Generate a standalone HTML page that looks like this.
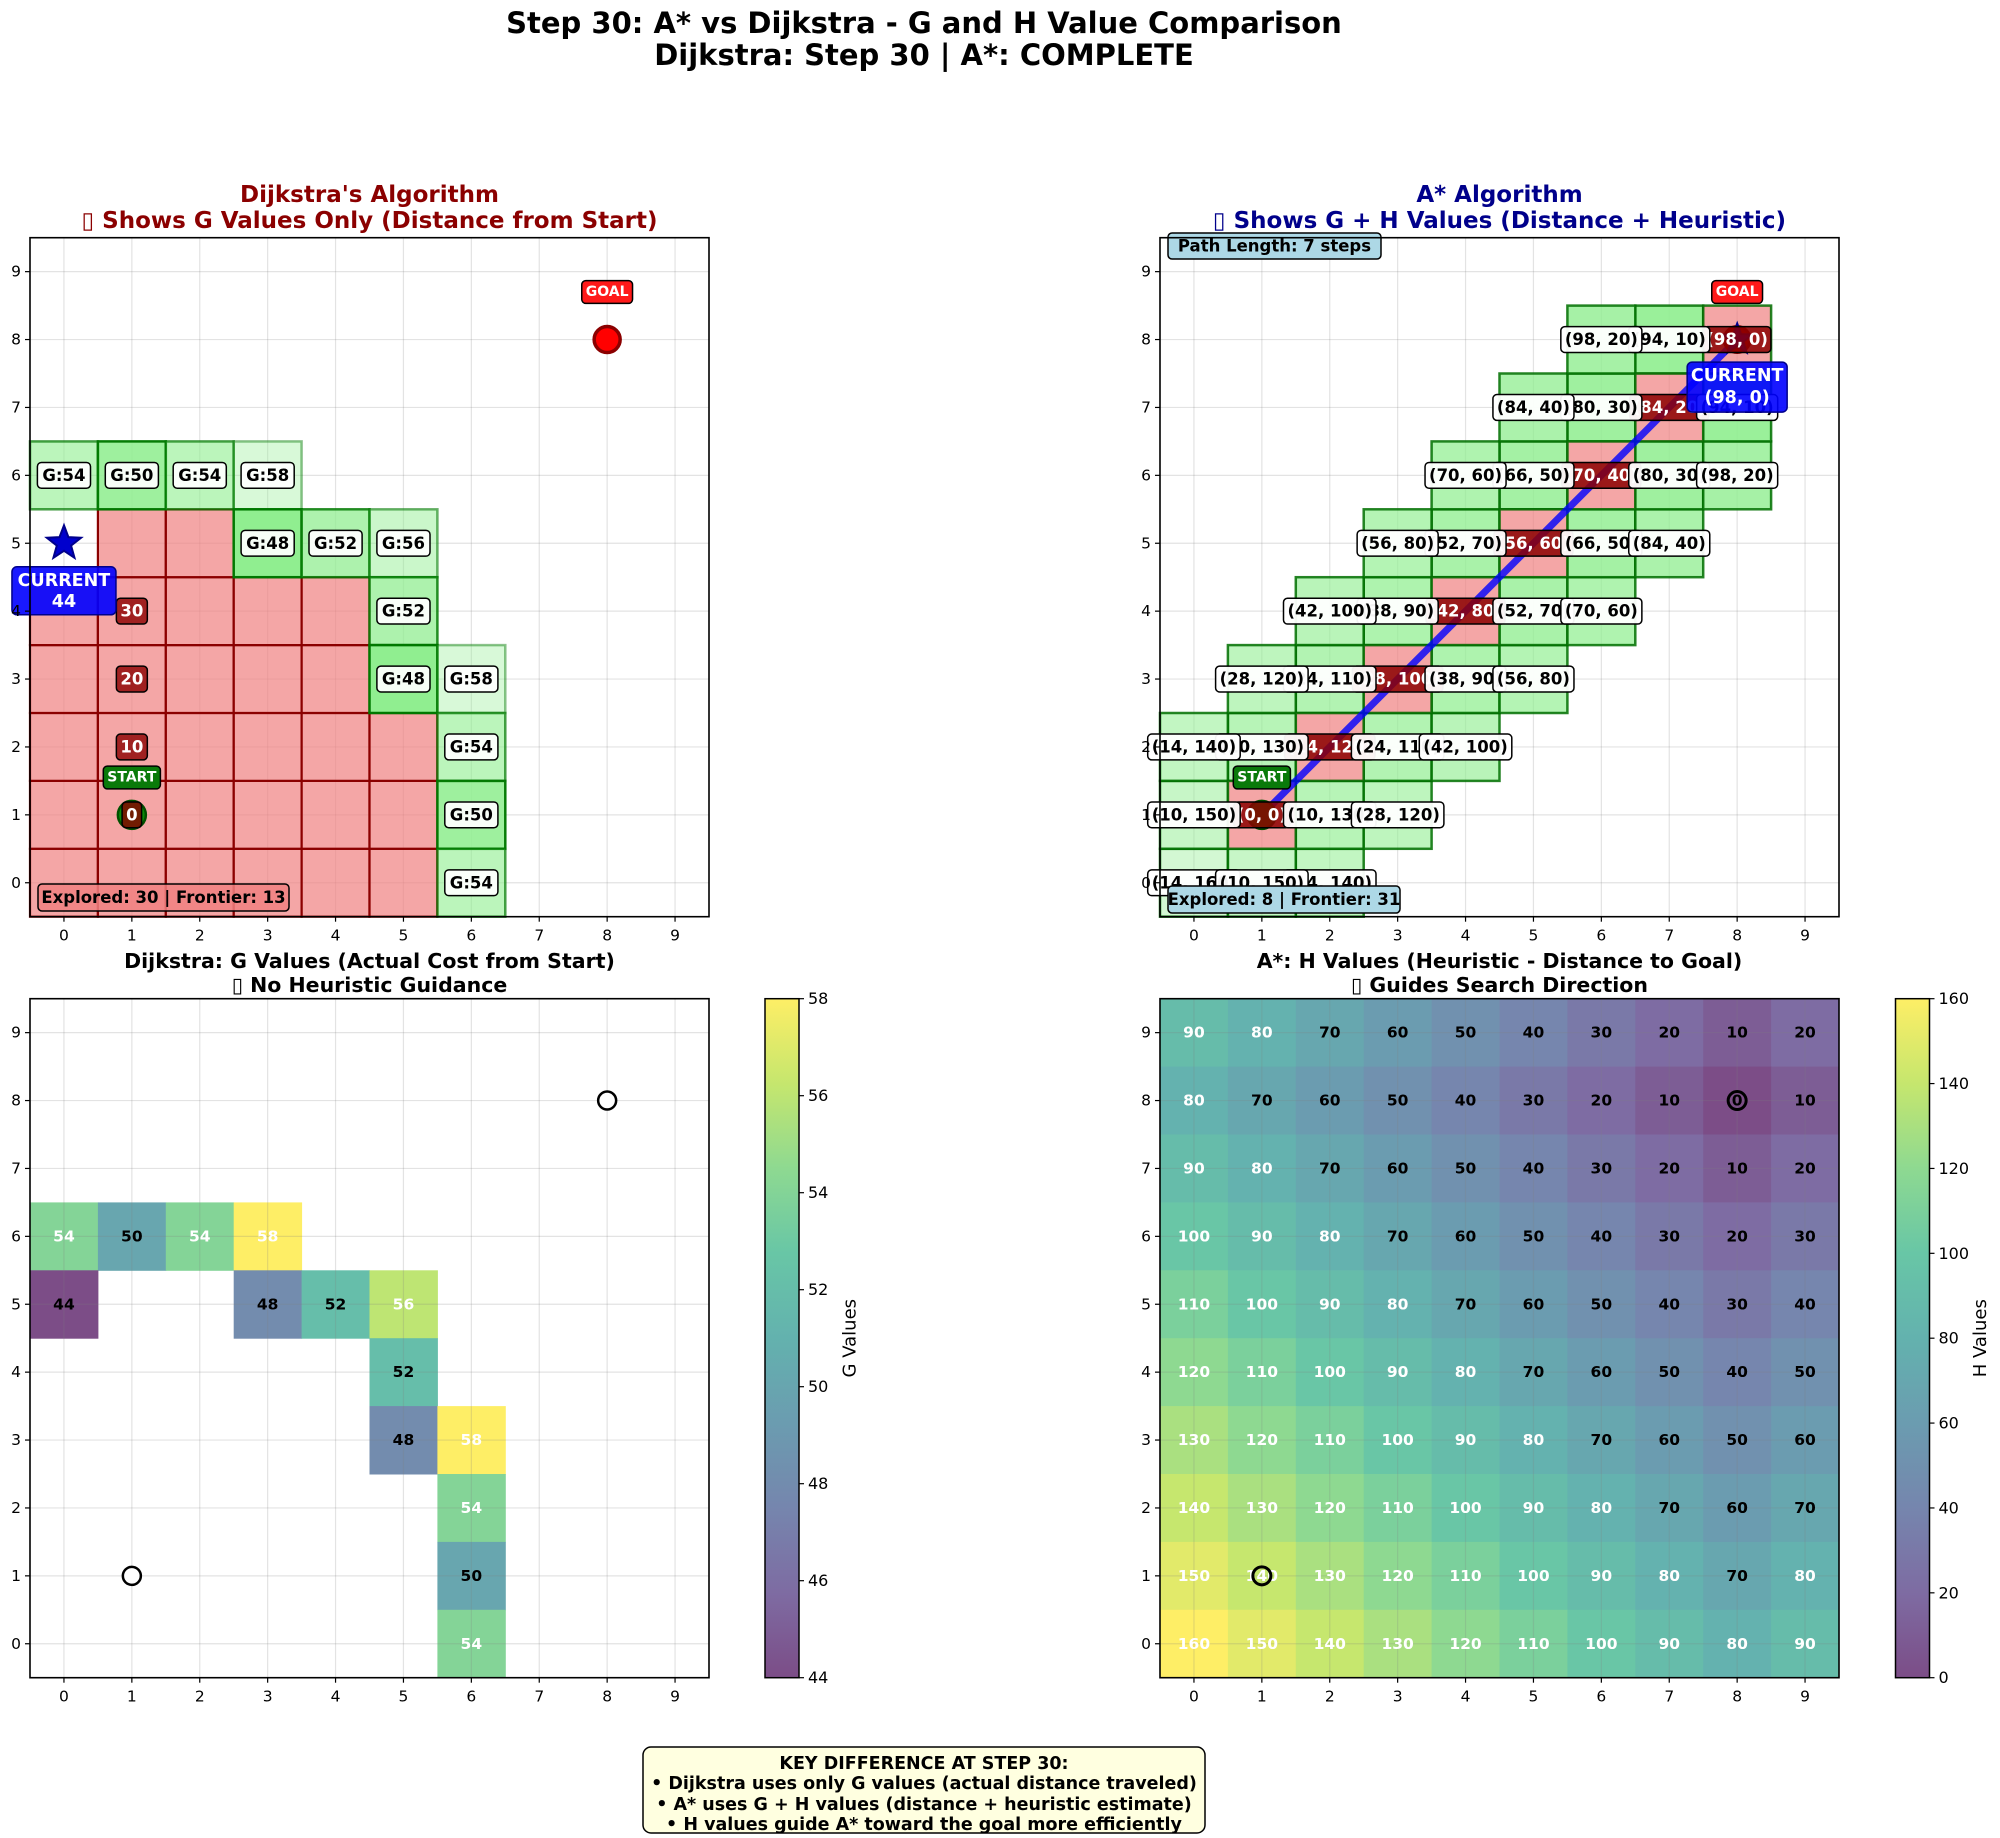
<!DOCTYPE html>
<html><head><meta charset="utf-8"><title>A* vs Dijkstra</title>
<style>
html,body{margin:0;padding:0;background:#fff;}
svg{display:block;font-family:"DejaVu Sans","Liberation Sans",sans-serif;}
</style></head>
<body>
<svg id="fig" width="2000" height="1838" xmlns="http://www.w3.org/2000/svg">
<defs>
<linearGradient id="vir" x1="0" y1="1" x2="0" y2="0">
<stop offset="0" stop-color="#440154"/><stop offset="0.125" stop-color="#472d7b"/><stop offset="0.25" stop-color="#3b528b"/><stop offset="0.375" stop-color="#2c728e"/><stop offset="0.5" stop-color="#21918c"/><stop offset="0.625" stop-color="#28ae80"/><stop offset="0.75" stop-color="#5ec962"/><stop offset="0.875" stop-color="#addc30"/><stop offset="1" stop-color="#fde725"/>
</linearGradient>
</defs>
<text x="924" y="23" text-anchor="middle" dominant-baseline="central" font-size="29" font-weight="bold">Step 30: A* vs Dijkstra - G and H Value Comparison</text>
<text x="924" y="55" text-anchor="middle" dominant-baseline="central" font-size="29" font-weight="bold">Dijkstra: Step 30 | A*: COMPLETE</text>

<text x="369.5" y="195" text-anchor="middle" dominant-baseline="central" font-size="23" font-weight="bold" fill="#8b0000">Dijkstra's Algorithm</text>
<text x="369.5" y="221" text-anchor="middle" dominant-baseline="central" font-size="23" font-weight="bold" fill="#8b0000">▯ Shows G Values Only (Distance from Start)</text>
<text x="1499.5" y="195" text-anchor="middle" dominant-baseline="central" font-size="23" font-weight="bold" fill="#00008b">A* Algorithm</text>
<text x="1499.5" y="221" text-anchor="middle" dominant-baseline="central" font-size="23" font-weight="bold" fill="#00008b">▯ Shows G + H Values (Distance + Heuristic)</text>
<text x="369.5" y="961" text-anchor="middle" dominant-baseline="central" font-size="20.5" font-weight="bold">Dijkstra: G Values (Actual Cost from Start)</text>
<text x="369.5" y="985" text-anchor="middle" dominant-baseline="central" font-size="20.5" font-weight="bold">▯ No Heuristic Guidance</text>
<text x="1499.5" y="961" text-anchor="middle" dominant-baseline="central" font-size="20.5" font-weight="bold">A*: H Values (Heuristic - Distance to Goal)</text>
<text x="1499.5" y="985" text-anchor="middle" dominant-baseline="central" font-size="20.5" font-weight="bold">▯ Guides Search Direction</text>

<g>
<rect x="643" y="1747" width="562" height="86" rx="8" fill="#ffffe0" stroke="#000" stroke-width="1.5"/>
<text x="924" y="1764" text-anchor="middle" dominant-baseline="central" font-size="17.5" font-weight="bold">KEY DIFFERENCE AT STEP 30:</text>
<text x="924" y="1784" text-anchor="middle" dominant-baseline="central" font-size="17.5" font-weight="bold">• Dijkstra uses only G values (actual distance traveled)</text>
<text x="924" y="1805" text-anchor="middle" dominant-baseline="central" font-size="17.5" font-weight="bold">• A* uses G + H values (distance + heuristic estimate)</text>
<text x="924" y="1825" text-anchor="middle" dominant-baseline="central" font-size="17.5" font-weight="bold">• H values guide A* toward the goal more efficiently</text>
</g>
</svg>
<script>
// ---------- data ----------
const dijExplored = [[0,0],[1,0],[2,0],[3,0],[4,0],[5,0],[0,1],[1,1],[2,1],[3,1],[4,1],[5,1],[0,2],[1,2],[2,2],[3,2],[4,2],[5,2],[0,3],[1,3],[2,3],[3,3],[4,3],[0,4],[1,4],[2,4],[3,4],[4,4],[1,5],[2,5]];
const dijExploredG = [[1,4,30],[1,3,20],[1,2,10],[1,1,0]];
const dijFrontier = [[0,6,54],[1,6,50],[2,6,54],[3,6,58],[3,5,48],[4,5,52],[5,5,56],[5,4,52],[5,3,48],[6,3,58],[6,2,54],[6,1,50],[6,0,54]];
const dijCurrent = [0,5,44];
const startPos = [1,1];
const goalPos = [8,8];
const dijStats = "Explored: 30 | Frontier: 13";

const astarPath = [[1,1,0,0],[2,2,14,120],[3,3,28,100],[4,4,42,80],[5,5,56,60],[6,6,70,40],[7,7,84,20],[8,8,98,0]];
const astarFrontier = [[0,0,14,160],[2,0,14,140],[1,0,10,150],[2,1,10,130],[0,1,10,150],[3,1,28,120],[1,2,10,130],[0,2,14,140],[3,2,24,110],[4,2,42,100],[2,3,24,110],[1,3,28,120],[4,3,38,90],[5,3,56,80],[3,4,38,90],[2,4,42,100],[5,4,52,70],[6,4,70,60],[4,5,52,70],[3,5,56,80],[6,5,66,50],[7,5,84,40],[5,6,66,50],[4,6,70,60],[7,6,80,30],[8,6,98,20],[6,7,80,30],[5,7,84,40],[8,7,94,10],[7,8,94,10],[6,8,98,20]];
const astarCurrent = [8,8,98,0];
const astarStats = "Explored: 8 | Frontier: 31";
const pathLengthText = "Path Length: 7 steps";

const gHeat = [[0,6,54],[1,6,50],[2,6,54],[3,6,58],[0,5,44],[3,5,48],[4,5,52],[5,5,56],[5,4,52],[5,3,48],[6,3,58],[6,2,54],[6,1,50],[6,0,54]];
const gRange = [44,58];
const gTicks = [44,46,48,50,52,54,56,58];
// hValues[row] where row 0 = y 9 (top)
const hValues = [
[90,80,70,60,50,40,30,20,10,20],
[80,70,60,50,40,30,20,10,0,10],
[90,80,70,60,50,40,30,20,10,20],
[100,90,80,70,60,50,40,30,20,30],
[110,100,90,80,70,60,50,40,30,40],
[120,110,100,90,80,70,60,50,40,50],
[130,120,110,100,90,80,70,60,50,60],
[140,130,120,110,100,90,80,70,60,70],
[150,140,130,120,110,100,90,80,70,80],
[160,150,140,130,120,110,100,90,80,90]];
const hRange = [0,160];
const hTicks = [0,20,40,60,80,100,120,140,160];
const axisTicks = [0,1,2,3,4,5,6,7,8,9];

// ---------- layout ----------
const NS = "http://www.w3.org/2000/svg";
const svg = document.getElementById('fig');
const SIZE = 679, CELL = SIZE/10;
const PTL = {l:30, t:237.7}, PTR = {l:1160, t:237.7}, PBL = {l:30, t:998.7}, PBR = {l:1160, t:998.7};
function X(p,x){ return p.l + (x+0.5)*CELL; }
function Y(p,y){ return p.t + SIZE - (y+0.5)*CELL; }
function el(tag, parent){ const e = document.createElementNS(NS, tag); (parent||svg).appendChild(e); return e; }
function set(e, obj){ for (const k in obj) e.setAttribute(k, obj[k]); return e; }

const VIR = [[0,[68,1,84]],[0.125,[71,45,123]],[0.25,[59,82,139]],[0.375,[44,114,142]],[0.5,[33,145,140]],[0.625,[40,174,128]],[0.75,[94,201,98]],[0.875,[173,220,48]],[1,[253,231,37]]];
function viridis(t, a){
  t = Math.max(0, Math.min(1, t));
  let i = 0; while (i < VIR.length-2 && t > VIR[i+1][0]) i++;
  const [t0,c0] = VIR[i], [t1,c1] = VIR[i+1];
  const f = (t-t0)/(t1-t0);
  const c = c0.map((v,k)=> v + (c1[k]-v)*f).map(v => Math.round(v*a + 255*(1-a)));
  return `rgb(${c[0]},${c[1]},${c[2]})`;
}

function drawGrid(p, g){
  for (const v of axisTicks){
    const gx = el('line', g);
    
    
    set(gx, {x1:X(p,v), x2:X(p,v), y1:p.t, y2:p.t+SIZE, stroke:'rgba(128,128,128,0.22)', 'stroke-width':1.2});
    const gy = el('line', g);
    
    
    set(gy, {y1:Y(p,v), y2:Y(p,v), x1:p.l, x2:p.l+SIZE, stroke:'rgba(128,128,128,0.22)', 'stroke-width':1.2});
  }
}
function drawFrame(p, g){
  const fr = el('rect', g);
  
  
  set(fr, {x:p.l, y:p.t, width:SIZE, height:SIZE, fill:'none', stroke:'#000', 'stroke-width':1.6});
  for (const v of axisTicks){
    const tx = el('line', g);
    
    
    set(tx, {x1:X(p,v), x2:X(p,v), y1:p.t+SIZE, y2:p.t+SIZE+5, stroke:'#000', 'stroke-width':1.2});
    const lx = el('text', g);
    
    
    set(lx, {x:X(p,v), y:p.t+SIZE+19, 'text-anchor':'middle', 'dominant-baseline':'central', 'font-size':15.5});
    lx.textContent = v;
    const ty = el('line', g);
    
    
    set(ty, {x1:p.l-5, x2:p.l, y1:Y(p,v), y2:Y(p,v), stroke:'#000', 'stroke-width':1.2});
    const ly = el('text', g);
    
    
    set(ly, {x:p.l-9, y:Y(p,v), 'text-anchor':'end', 'dominant-baseline':'central', 'font-size':15.5});
    ly.textContent = v;
  }
}
function labelBox(g, cx, cy, txt, fill, color, stroke, size, pad){
  const grp = el('g', g);
  const r = el('rect', grp);
  const t = el('text', grp);
  set(t, {x:cx, y:cy, 'text-anchor':'middle', 'dominant-baseline':'central', 'font-size':size, 'font-weight':'bold', fill:color});
  t.textContent = txt;
  const w = t.getComputedTextLength();
  set(r, {x:cx - w/2 - pad, y:cy - size*0.6 - 3, width:w + 2*pad, height:size*1.2 + 6, rx:4, fill:fill, stroke:stroke, 'stroke-width':1.5});
  return {grp, r, t};
}
function starPts(cx, cy, R){
  const pts = [];
  for (let i=0;i<10;i++){ const a = -Math.PI/2 + i*Math.PI/5; const rr = i%2 ? R*0.42 : R; pts.push((cx+rr*Math.cos(a)).toFixed(1)+','+(cy+rr*Math.sin(a)).toFixed(1)); }
  return pts.join(' ');
}

// ---------- Dijkstra panel ----------
(function(){
  const p = PTL;
  const g = el('g');
  
  
  drawGrid(p, g);
  for (const [x,y] of dijExplored){
    const c = el('rect', g);
    
    
    set(c, {x:X(p,x)-CELL/2, y:Y(p,y)-CELL/2, width:CELL, height:CELL, fill:'rgba(240,128,128,0.7)', stroke:'#8b0000', 'stroke-width':2.2});
  }
  for (const [x,y,gv] of dijFrontier){
    const a = Math.max(0.35, 1 - (gv-48)*0.065);
    const c = el('rect', g);
    
    
    set(c, {x:X(p,x)-CELL/2, y:Y(p,y)-CELL/2, width:CELL, height:CELL, fill:`rgba(144,238,144,${a})`, stroke:`rgba(0,120,0,${Math.min(1,a+0.1)})`, 'stroke-width':2.5});
  }
  const sc = el('circle', g);
  
  
  set(sc, {cx:X(p,startPos[0]), cy:Y(p,startPos[1]), r:14, fill:'#0a8a0a', stroke:'#005000', 'stroke-width':2.5});
  const gc = el('circle', g);
  
  
  set(gc, {cx:X(p,goalPos[0]), cy:Y(p,goalPos[1]), r:13, fill:'#ff0000', stroke:'#8b0000', 'stroke-width':3.5});
  for (const [x,y,gv] of dijExploredG){
    const b = labelBox(g, X(p,x), Y(p,y), String(gv), 'rgba(139,0,0,0.8)', '#fff', '#000', 16.5, 4);
    
    
  }
  for (const [x,y,gv] of dijFrontier){
    const b = labelBox(g, X(p,x), Y(p,y), 'G:' + gv, 'rgba(255,255,255,0.92)', '#000', '#000', 16.5, 5);
    
    
  }
  const st = labelBox(g, X(p,startPos[0]), Y(p,startPos[1]+0.55), 'START', '#0a7a0a', '#fff', '#000', 14, 4);
  
  
  const gl = labelBox(g, X(p,goalPos[0]), Y(p,goalPos[1]+0.7), 'GOAL', '#ff1a1a', '#fff', '#000', 14, 4);
  
  
  const star = el('polygon', g);
  
  
  set(star, {points:starPts(X(p,dijCurrent[0]), Y(p,dijCurrent[1]), 18), fill:'#0000cd', stroke:'#00008b', 'stroke-width':2});
  const cb = el('g', g);
  
  
  const ccx = X(p,dijCurrent[0]), ccy = Y(p,dijCurrent[1]-0.7);
  const cr = el('rect', cb);
  set(cr, {x:ccx-52, y:ccy-24, width:104, height:48, rx:5, fill:'rgba(0,0,255,0.9)', stroke:'#00008b', 'stroke-width':1.5});
  const ct1 = el('text', cb); set(ct1, {x:ccx, y:ccy-10, 'text-anchor':'middle', 'dominant-baseline':'central', 'font-size':17.5, 'font-weight':'bold', fill:'#fff'}); ct1.textContent = 'CURRENT';
  const ct2 = el('text', cb); set(ct2, {x:ccx, y:ccy+11, 'text-anchor':'middle', 'dominant-baseline':'central', 'font-size':17.5, 'font-weight':'bold', fill:'#fff'}); ct2.textContent = String(dijCurrent[2]);
  const sb = el('g', g);
  
  
  const sr = el('rect', sb); set(sr, {x:38, y:884, width:251, height:27, rx:4, fill:'rgba(240,128,128,0.85)', stroke:'#000', 'stroke-width':1.5});
  const stt = el('text', sb); set(stt, {x:163.5, y:897.5, 'text-anchor':'middle', 'dominant-baseline':'central', 'font-size':16.5, 'font-weight':'bold'}); stt.textContent = dijStats;
  drawFrame(p, g);
})();

// ---------- A* panel ----------
(function(){
  const p = PTR;
  const g = el('g');
  
  
  drawGrid(p, g);
  for (const [x,y,gv,hv] of astarFrontier){
    const f = gv + hv;
    const a = Math.max(0.35, Math.min(0.95, 0.95 - (f-98)/76*0.55));
    const c = el('rect', g);
    
    
    set(c, {x:X(p,x)-CELL/2, y:Y(p,y)-CELL/2, width:CELL, height:CELL, fill:`rgba(144,238,144,${a})`, stroke:'rgba(0,110,0,0.85)', 'stroke-width':2.5});
  }
  for (const [x,y] of astarPath){
    const c = el('rect', g);
    
    
    set(c, {x:X(p,x)-CELL/2, y:Y(p,y)-CELL/2, width:CELL, height:CELL, fill:'rgba(240,128,128,0.7)', stroke:'rgba(0,110,0,0.85)', 'stroke-width':2.5});
  }
  const pl = el('polyline', g);
  
  
  set(pl, {points:astarPath.map(d => X(p,d[0])+','+Y(p,d[1])).join(' '), fill:'none', stroke:'rgba(0,0,255,0.8)', 'stroke-width':7, 'stroke-linecap':'round'});
  const sc = el('circle', g);
  
  
  set(sc, {cx:X(p,startPos[0]), cy:Y(p,startPos[1]), r:14, fill:'#0a8a0a', stroke:'#005000', 'stroke-width':2.5});
  const gc = el('circle', g);
  
  
  set(gc, {cx:X(p,goalPos[0]), cy:Y(p,goalPos[1]), r:13, fill:'#b00000', stroke:'#8b0000', 'stroke-width':3});
  const star = el('polygon', g);
  
  
  set(star, {points:starPts(X(p,astarCurrent[0]), Y(p,astarCurrent[1]), 16), fill:'#0000cd', stroke:'#00008b', 'stroke-width':2});
  for (const [x,y,gv,hv] of astarPath){
    const b = labelBox(g, X(p,x), Y(p,y), `(${gv}, ${hv})`, 'rgba(139,0,0,0.85)', '#fff', '#000', 16.5, 3);
    
    
  }
  for (const [x,y,gv,hv] of astarFrontier){
    const b = labelBox(g, X(p,x), Y(p,y), `(${gv}, ${hv})`, 'rgba(255,255,255,0.95)', '#000', '#000', 16.5, 4);
    
    
  }
  const st = labelBox(g, X(p,startPos[0]), Y(p,startPos[1]+0.55), 'START', '#0a7a0a', '#fff', '#000', 14, 4);
  
  
  const gl = labelBox(g, X(p,goalPos[0]), Y(p,goalPos[1]+0.7), 'GOAL', '#ff1a1a', '#fff', '#000', 14, 4);
  
  
  const cb = el('g', g);
  
  
  const ccx = X(p,astarCurrent[0]), ccy = Y(p,astarCurrent[1]-0.7);
  const cr = el('rect', cb);
  set(cr, {x:ccx-50, y:ccy-25, width:100, height:50, rx:5, fill:'rgba(0,0,255,0.9)', stroke:'#00008b', 'stroke-width':1.5});
  const ct1 = el('text', cb); set(ct1, {x:ccx, y:ccy-11, 'text-anchor':'middle', 'dominant-baseline':'central', 'font-size':17.5, 'font-weight':'bold', fill:'#fff'}); ct1.textContent = 'CURRENT';
  const ct2 = el('text', cb); set(ct2, {x:ccx, y:ccy+11, 'text-anchor':'middle', 'dominant-baseline':'central', 'font-size':17.5, 'font-weight':'bold', fill:'#fff'}); ct2.textContent = `(${astarCurrent[2]}, ${astarCurrent[3]})`;
  const pb = el('g', g);
  
  
  const pr = el('rect', pb); set(pr, {x:1168, y:233, width:213, height:26, rx:4, fill:'#add8e6', stroke:'#000', 'stroke-width':1.5});
  const pt = el('text', pb); set(pt, {x:1274.5, y:246, 'text-anchor':'middle', 'dominant-baseline':'central', 'font-size':16.5, 'font-weight':'bold'}); pt.textContent = pathLengthText;
  const sb = el('g', g);
  
  
  const sr = el('rect', sb); set(sr, {x:1168, y:886, width:232, height:27, rx:4, fill:'#add8e6', stroke:'#000', 'stroke-width':1.5});
  const stt = el('text', sb); set(stt, {x:1284, y:899.5, 'text-anchor':'middle', 'dominant-baseline':'central', 'font-size':16.5, 'font-weight':'bold'}); stt.textContent = astarStats;
  drawFrame(p, g);
})();

function colorbar(x, top, bottom, range, ticks, label, name){
  const g = el('g');
  
  
  const r = el('rect', g);
  set(r, {x:x, y:top, width:34, height:bottom-top, fill:'url(#vir)', 'fill-opacity':0.7});
  const fr = el('rect', g);
  set(fr, {x:x, y:top, width:34, height:bottom-top, fill:'none', stroke:'#000', 'stroke-width':1.5});
  for (const v of ticks){
    const yy = bottom - (v-range[0])/(range[1]-range[0])*(bottom-top);
    const tl = el('line', g);
    
    
    set(tl, {x1:x+34, x2:x+39, y1:yy, y2:yy, stroke:'#000', 'stroke-width':1.2});
    const tt = el('text', g);
    
    
    set(tt, {x:x+43, y:yy, 'dominant-baseline':'central', 'font-size':16});
    tt.textContent = v;
  }
  const lt = el('text', g);
  
  
  const lx = x + 85, ly = (top+bottom)/2;
  set(lt, {x:lx, y:ly, 'text-anchor':'middle', 'dominant-baseline':'central', 'font-size':18, transform:`rotate(-90 ${lx} ${ly})`});
  lt.textContent = label;
}

// ---------- G heatmap ----------
(function(){
  const p = PBL;
  const g = el('g');
  
  
  for (const [x,y,v] of gHeat){
    const c = el('rect', g);
    
    
    set(c, {x:X(p,x)-CELL/2, y:Y(p,y)-CELL/2, width:CELL+0.5, height:CELL+0.5, fill:viridis((v-gRange[0])/(gRange[1]-gRange[0]), 0.7)});
  }
  drawGrid(p, g);
  for (const [x,y,v] of gHeat){
    const t = el('text', g);
    
    
    set(t, {x:X(p,x), y:Y(p,y), 'text-anchor':'middle', 'dominant-baseline':'central', 'font-size':15.5, 'font-weight':'bold', fill: v >= 54 ? '#fff' : '#000'});
    t.textContent = v;
  }
  for (const pos of [startPos, goalPos]){
    const c = el('circle', g);
    
    
    set(c, {cx:X(p,pos[0]), cy:Y(p,pos[1]), r:9, fill:'#fff', stroke:'#000', 'stroke-width':2.5});
  }
  drawFrame(p, g);
  colorbar(765, p.t, p.t+SIZE, gRange, gTicks, 'G Values', 'g-colorbar');
})();

// ---------- H heatmap ----------
(function(){
  const p = PBR;
  const g = el('g');
  
  
  hValues.forEach((row, ri) => {
    const y = 9 - ri;
    row.forEach((v, x) => {
      const c = el('rect', g);
      
      
      set(c, {x:X(p,x)-CELL/2, y:Y(p,y)-CELL/2, width:CELL+0.5, height:CELL+0.5, fill:viridis((v-hRange[0])/(hRange[1]-hRange[0]), 0.7)});
    });
  });
  drawGrid(p, g);
  hValues.forEach((row, ri) => {
    const y = 9 - ri;
    row.forEach((v, x) => {
      const t = el('text', g);
      
      
      set(t, {x:X(p,x), y:Y(p,y), 'text-anchor':'middle', 'dominant-baseline':'central', 'font-size':15.5, 'font-weight':'bold', fill: v >= 80 ? '#fff' : '#000'});
      t.textContent = v;
    });
  });
  for (const pos of [startPos, goalPos]){
    const c = el('circle', g);
    
    
    set(c, {cx:X(p,pos[0]), cy:Y(p,pos[1]), r:9, fill:'none', stroke:'#000', 'stroke-width':3});
  }
  drawFrame(p, g);
  colorbar(1895.5, p.t, p.t+SIZE, hRange, hTicks, 'H Values', 'h-colorbar');
})();
</script>
</body></html>
